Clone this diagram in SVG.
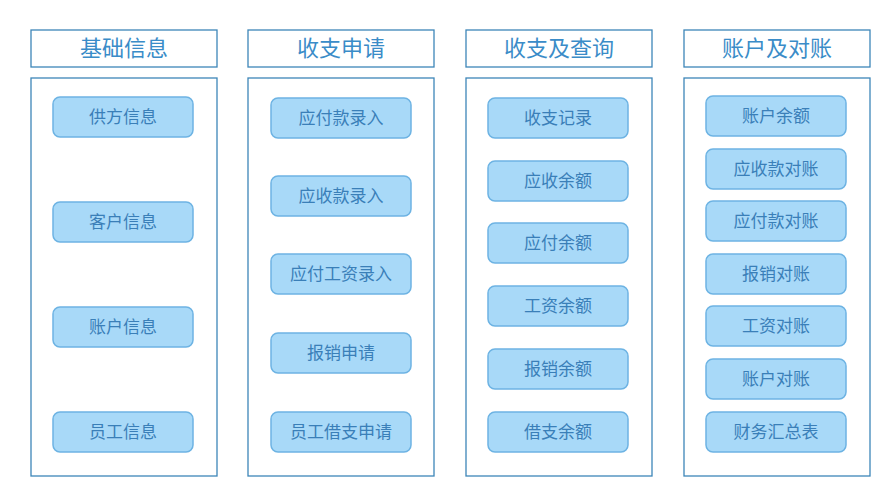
<svg xmlns="http://www.w3.org/2000/svg" width="884" height="493" viewBox="0 0 884 493">
<style>
.h{fill:#fff;stroke:#3d86b8;stroke-width:1.3}
.p{fill:#fff;stroke:#3d86b8;stroke-width:1.3}
.n{fill:#a8d9f8;stroke:#6db3e3;stroke-width:1.5}
.ht{font-family:"Noto Sans CJK SC",sans-serif;font-size:22px;fill:#3a8cc8;text-anchor:middle}
.nt{font-family:"Noto Sans CJK SC",sans-serif;font-size:17px;fill:#3a7fb8;text-anchor:middle}
</style>
<rect width="884" height="493" fill="#fff"/>
<g id="col1"><rect class="h" x="31" y="30" width="186" height="37"/><text class="ht" x="124" y="56">基础信息</text><rect class="p" x="31" y="78" width="186" height="398"/></g>
<g id="col2"><rect class="h" x="248" y="30" width="186" height="37"/><text class="ht" x="341" y="56">收支申请</text><rect class="p" x="248" y="78" width="186" height="398"/></g>
<g id="col3"><rect class="h" x="466" y="30" width="186" height="37"/><text class="ht" x="559" y="56">收支及查询</text><rect class="p" x="466" y="78" width="186" height="398"/></g>
<g id="col4"><rect class="h" x="684" y="30" width="186" height="37"/><text class="ht" x="777" y="56">账户及对账</text><rect class="p" x="684" y="78" width="186" height="398"/></g>
<g id="n1a"><rect class="n" x="53" y="97" width="140" height="40" rx="7"/><text class="nt" x="123" y="123">供方信息</text></g>
<g id="n1b"><rect class="n" x="53" y="202" width="140" height="40" rx="7"/><text class="nt" x="123" y="228">客户信息</text></g>
<g id="n1c"><rect class="n" x="53" y="307" width="140" height="40" rx="7"/><text class="nt" x="123" y="333">账户信息</text></g>
<g id="n1d"><rect class="n" x="53" y="412" width="140" height="40" rx="7"/><text class="nt" x="123" y="438">员工信息</text></g>
<g id="n2a"><rect class="n" x="271" y="98" width="140" height="40" rx="7"/><text class="nt" x="341" y="124">应付款录入</text></g>
<g id="n2b"><rect class="n" x="271" y="176" width="140" height="40" rx="7"/><text class="nt" x="341" y="202">应收款录入</text></g>
<g id="n2c"><rect class="n" x="271" y="254" width="140" height="40" rx="7"/><text class="nt" x="341" y="280">应付工资录入</text></g>
<g id="n2d"><rect class="n" x="271" y="333" width="140" height="40" rx="7"/><text class="nt" x="341" y="359">报销申请</text></g>
<g id="n2e"><rect class="n" x="271" y="412" width="140" height="40" rx="7"/><text class="nt" x="341" y="438">员工借支申请</text></g>
<g id="n3a"><rect class="n" x="488" y="98" width="140" height="40" rx="7"/><text class="nt" x="558" y="124">收支记录</text></g>
<g id="n3b"><rect class="n" x="488" y="161" width="140" height="40" rx="7"/><text class="nt" x="558" y="187">应收余额</text></g>
<g id="n3c"><rect class="n" x="488" y="223" width="140" height="40" rx="7"/><text class="nt" x="558" y="249">应付余额</text></g>
<g id="n3d"><rect class="n" x="488" y="286" width="140" height="40" rx="7"/><text class="nt" x="558" y="312">工资余额</text></g>
<g id="n3e"><rect class="n" x="488" y="349" width="140" height="40" rx="7"/><text class="nt" x="558" y="375">报销余额</text></g>
<g id="n3f"><rect class="n" x="488" y="412" width="140" height="40" rx="7"/><text class="nt" x="558" y="438">借支余额</text></g>
<g id="n4a"><rect class="n" x="706" y="96" width="140" height="40" rx="7"/><text class="nt" x="776" y="122">账户余额</text></g>
<g id="n4b"><rect class="n" x="706" y="149" width="140" height="40" rx="7"/><text class="nt" x="776" y="175">应收款对账</text></g>
<g id="n4c"><rect class="n" x="706" y="201" width="140" height="40" rx="7"/><text class="nt" x="776" y="227">应付款对账</text></g>
<g id="n4d"><rect class="n" x="706" y="254" width="140" height="40" rx="7"/><text class="nt" x="776" y="280">报销对账</text></g>
<g id="n4e"><rect class="n" x="706" y="306" width="140" height="40" rx="7"/><text class="nt" x="776" y="332">工资对账</text></g>
<g id="n4f"><rect class="n" x="706" y="359" width="140" height="40" rx="7"/><text class="nt" x="776" y="385">账户对账</text></g>
<g id="n4g"><rect class="n" x="706" y="412" width="140" height="40" rx="7"/><text class="nt" x="776" y="438">财务汇总表</text></g>
<g id="connectors"/>
</svg>
